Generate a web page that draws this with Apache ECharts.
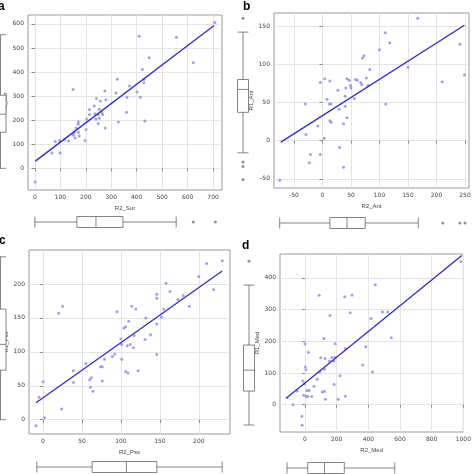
<!DOCTYPE html>
<html><head><meta charset="utf-8">
<script src="https://cdn.jsdelivr.net/npm/echarts@6/dist/echarts.min.js"></script>
<style>html,body{margin:0;padding:0;background:#fff}#c{width:474px;height:474px}</style>
</head><body><div id="c"></div>
<script>
// ---- data ----
const namesX = ['R2_Sur','R2_Ant','R2_Pss','R2_Med'];
const namesY = ['R1_Sur','R1_Ant','R1_Pss','R1_Med'];
const letters = ['a','b','c','d'];
const ptsA = [[1,-57],[67,64],[80,112],[97,116],[99,64],[116,119],[132,114],[150,328],[151,137],[154,147],[158,126],[162,168],[171,150],[170,183],[171,193],[174,134],[197,116],[201,161],[203,205],[214,244],[214,224],[233,259],[236,227],[239,205],[242,290],[249,223],[249,186],[253,208],[253,245],[257,280],[262,233],[266,224],[275,321],[276,168],[279,285],[319,313],[324,370],[328,193],[362,294],[360,233],[372,342],[401,317],[410,549],[414,295],[422,411],[428,356],[429,370],[432,197],[449,459],[556,545],[622,439],[707,606]];
const ptsB = [[-75,-52],[-30,48],[-29,8],[-23,-29],[-21,-18],[-8,19],[-4,-18],[-4,76],[3,3],[4,81],[8,54],[13,78],[12,48],[15,48],[13,26],[15,24],[27,66],[29,41],[30,-9],[37,22],[37,-35],[40,58],[41,69],[43,81],[40,45],[43,30],[47,79],[49,72],[50,69],[56,55],[58,80],[61,79],[67,76],[69,73],[70,108],[73,111],[77,82],[80,72],[83,93],[100,119],[110,141],[111,48],[118,128],[150,96],[167,160],[210,77],[241,126],[249,86]];
const ptsC = [[-9,-9],[-5,33],[0,56],[2,3],[20,157],[24,16],[25,167],[39,72],[39,55],[55,83],[60,59],[61,48],[62,62],[64,42],[74,78],[76,78],[76,57],[79,89],[89,93],[92,97],[95,159],[100,119],[101,111],[101,89],[104,135],[106,137],[106,71],[109,69],[108,109],[110,145],[112,111],[114,167],[116,106],[117,124],[119,163],[122,72],[131,118],[132,150],[138,125],[146,96],[146,141],[146,179],[146,185],[152,151],[155,163],[158,201],[163,189],[173,177],[180,183],[188,167],[200,211],[210,230],[219,192],[230,234]];
const ptsD = [[-115,22],[-75,0],[-50,43],[-20,-36],[-18,-65],[-14,75],[-8,30],[-4,66],[0,191],[2,119],[6,110],[12,45],[8,26],[16,26],[22,165],[26,45],[42,26],[57,58],[77,80],[89,345],[93,103],[99,148],[109,40],[123,42],[119,209],[123,112],[127,146],[129,17],[154,138],[158,281],[170,149],[182,138],[184,64],[190,192],[190,149],[210,17],[222,91],[251,340],[255,27],[255,177],[285,290],[297,346],[364,125],[384,183],[416,272],[426,103],[444,378],[489,292],[523,292],[545,211],[985,451]];
const fitLines = [[[2,30],[704,593]],[[-73,-2],[249,151]],[[-9,25],[230,219]],[[-115,22],[990,470]]];
// boxplots [min,Q1,median,Q3,max]
const boxX = [[0,165,240,346,555],[-75,13,43,75,168],[-8,63,107,146,230],[-115,12,115,236,545]];
const outX = [[622,709],[211,241,250],[],[1012]];
const boxY = [[0,150,225,304,555],[-16,37,67,80,142],[0,73,111,163,240],[-64,43,109,188,377]];
const outY = [[],[160,-28,-34,-51],[],[452]];
const xTicks = [[0,100,200,300,400,500,600,700],[-50,0,50,100,150,200,250],[0,50,100,150,200],[0,200,400,600,800,1000]];
const yTicks = [[0,100,200,300,400,500,600],[-50,0,50,100,150],[0,50,100,150,200],[0,100,200,300,400]];
const xRanges = [[-27,735],[-85,257],[-18,240],[-158,1000]];
const yRanges = [[-90,637],[-62,167],[-21,250],[-86,475]];
// ---- layout ----
const mainGrid = [[28,15,194,175],[274,13,195,175],[29,250,201,184],[280,254,189,178]];
const botGrid = [216,217,461,462];
const leftGrid = [[0,1],[237,12],[0,1],[243,12]];
const pts = [ptsA,ptsB,ptsC,ptsD];

const grid=[],xAxis=[],yAxis=[],series=[],graphic=[];
const lab={fontSize:6,color:'#444',fontFamily:'DejaVu Sans',formatter:v=>String(v)};
const split={show:true,lineStyle:{color:'#e4e4e4',width:1}};
for(let i=0;i<4;i++){
  const [l,t,w,h]=mainGrid[i];
  const g0=grid.length;
  grid.push({left:l,top:t,width:w,height:h,show:true,borderColor:'#999',borderWidth:1,backgroundColor:'#fff'});
  grid.push({left:l,top:botGrid[i],width:w,height:12});
  grid.push({left:leftGrid[i][0],top:t,width:leftGrid[i][1],height:h});
  const xa=xAxis.length, ya=yAxis.length;
  xAxis.push({gridIndex:g0,type:'value',min:xRanges[i][0],max:xRanges[i][1],
    axisLabel:Object.assign({margin:4,customValues:xTicks[i]},lab),
    axisLine:{show:false},axisTick:{show:true,length:3,customValues:xTicks[i],lineStyle:{color:'#888'}},
    splitLine:split,name:namesX[i],nameLocation:'middle',nameGap:15,
    nameTextStyle:{fontSize:6,color:'#444'}});
  yAxis.push({gridIndex:g0,type:'value',min:yRanges[i][0],max:yRanges[i][1],
    axisLabel:Object.assign({margin:4,customValues:yTicks[i]},lab),
    axisLine:{show:false},axisTick:{show:true,length:3,customValues:yTicks[i],lineStyle:{color:'#888'}},
    splitLine:split,name:namesY[i],nameLocation:'middle',nameGap:i==3?20:18,
    nameTextStyle:{fontSize:6,color:'#444'}});
  xAxis.push({gridIndex:g0+1,type:'value',min:xRanges[i][0],max:xRanges[i][1],show:false});
  yAxis.push({gridIndex:g0+1,type:'category',data:['b'],show:false});
  xAxis.push({gridIndex:g0+2,type:'category',data:['l'],show:false});
  yAxis.push({gridIndex:g0+2,type:'value',min:yRanges[i][0],max:yRanges[i][1],show:false});
  series.push({type:'scatter',xAxisIndex:xa,yAxisIndex:ya,data:pts[i],symbolSize:3,
    itemStyle:{color:'#8a8ae6'},silent:true});
  series.push({type:'line',xAxisIndex:xa,yAxisIndex:ya,data:fitLines[i],symbol:'none',
    lineStyle:{color:'#2b2bcf',width:1.3},silent:true});
  const bs={color:'#fff',borderColor:'#666',borderWidth:0.8};
  series.push({type:'boxplot',xAxisIndex:xa+1,yAxisIndex:ya+1,data:[boxX[i]],boxWidth:[11,11],itemStyle:bs,silent:true});
  series.push({type:'scatter',xAxisIndex:xa+1,yAxisIndex:ya+1,data:outX[i].map(v=>[v,'b']),symbolSize:3,itemStyle:{color:'#777'}});
  series.push({type:'boxplot',xAxisIndex:xa+2,yAxisIndex:ya+2,data:[boxY[i]],boxWidth:[11,11],itemStyle:bs,silent:true});
  series.push({type:'scatter',xAxisIndex:xa+2,yAxisIndex:ya+2,data:outY[i].map(v=>['l',v]),symbolSize:3,itemStyle:{color:'#777'}});
}
const letPos=[[-2,1],[243,1],[-1,235],[242,240]];
letters.forEach((s,i)=>graphic.push({type:'text',left:letPos[i][0],top:letPos[i][1],
  style:{text:s,font:'bold 12px Liberation Sans',fill:'#000'}}));
const chart=echarts.init(document.getElementById('c'));
chart.setOption({animation:false,grid,xAxis,yAxis,series,graphic});
</script></body></html>
